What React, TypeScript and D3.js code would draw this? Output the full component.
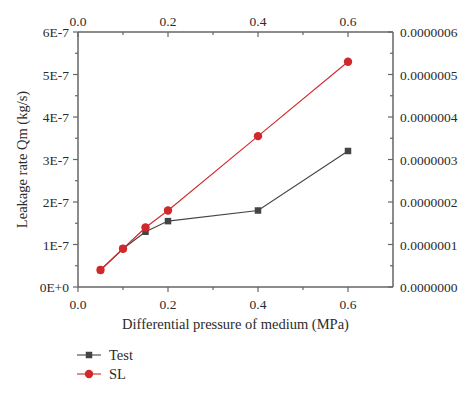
import React from 'react';
import * as d3 from 'd3';

// pressure (MPa)
const pressure = [0.05, 0.1, 0.15, 0.2, 0.4, 0.6];
// leakage rate Qm (kg/s)
const testValues = [4e-8, 9e-8, 1.3e-7, 1.55e-7, 1.8e-7, 3.2e-7];
const slValues = [4e-8, 9e-8, 1.4e-7, 1.8e-7, 3.55e-7, 5.3e-7];

const xTicks = [0, 0.2, 0.4, 0.6];
const xMinor = [0.1, 0.3, 0.5];
const yTicks = [0, 1e-7, 2e-7, 3e-7, 4e-7, 5e-7, 6e-7];
const yMinor = [0.5e-7, 1.5e-7, 2.5e-7, 3.5e-7, 4.5e-7, 5.5e-7];
const leftLabels = ['0E+0', '1E-7', '2E-7', '3E-7', '4E-7', '5E-7', '6E-7'];
const rightLabels = ['0.0000000', '0.0000001', '0.0000002', '0.0000003', '0.0000004', '0.0000005', '0.0000006'];

const W = 474;
const H = 395;
const m = { left: 78, right: 393, top: 32, bottom: 287 };

const axisColor = '#666';
const textColor = '#2b2b2b';
const font = '"Liberation Serif", "DejaVu Serif", serif';
const testColor = '#444';
const slColor = '#d0282b';

export default function App() {
  const x = d3.scaleLinear().domain([0, 0.7]).range([m.left, m.right]);
  const y = d3.scaleLinear().domain([0, 6e-7]).range([m.bottom, m.top]);

  const line = d3.line<[number, number]>()
    .x(d => x(d[0]))
    .y(d => y(d[1]));

  const testPts = pressure.map((p, i) => [p, testValues[i]] as [number, number]);
  const slPts = pressure.map((p, i) => [p, slValues[i]] as [number, number]);

  return (
    <svg width={W} height={H} style={{ position: 'absolute', left: 0, top: 0, background: '#fff' }}>
      {/* frame */}
      <g stroke={axisColor} strokeWidth={1.5} fill="none">
        <line x1={m.left} x2={m.right} y1={m.top} y2={m.top} />
        <line x1={m.left} x2={m.right} y1={m.bottom} y2={m.bottom} />
        <line x1={m.left} x2={m.left} y1={m.top} y2={m.bottom} />
        <line x1={m.right} x2={m.right} y1={m.top} y2={m.bottom} />
      </g>

      {/* ticks: bottom/left outward, top/right inward */}
      <g stroke={axisColor} strokeWidth={1.2}>
        {xTicks.map(t => (
          <g key={'xt' + t}>
            <line x1={x(t)} x2={x(t)} y1={m.bottom} y2={m.bottom + 5} />
            <line x1={x(t)} x2={x(t)} y1={m.top} y2={m.top + 5} />
          </g>
        ))}
        {xMinor.map(t => (
          <g key={'xm' + t}>
            <line x1={x(t)} x2={x(t)} y1={m.bottom} y2={m.bottom + 3} />
            <line x1={x(t)} x2={x(t)} y1={m.top} y2={m.top + 3} />
          </g>
        ))}
        {yTicks.map(t => (
          <g key={'yt' + t}>
            <line x1={m.left - 5} x2={m.left} y1={y(t)} y2={y(t)} />
            <line x1={m.right - 5} x2={m.right} y1={y(t)} y2={y(t)} />
          </g>
        ))}
        {yMinor.map(t => (
          <g key={'ym' + t}>
            <line x1={m.left - 3} x2={m.left} y1={y(t)} y2={y(t)} />
            <line x1={m.right - 3} x2={m.right} y1={y(t)} y2={y(t)} />
          </g>
        ))}
      </g>

      {/* tick labels */}
      <g fill={textColor} fontFamily={font} fontSize={13.5}>
        {xTicks.map(t => (
          <text key={'xb' + t} x={x(t)} y={m.bottom + 22} textAnchor="middle">{t.toFixed(1)}</text>
        ))}
        {xTicks.map(t => (
          <text key={'xtop' + t} x={x(t)} y={m.top - 6} textAnchor="middle">{t.toFixed(1)}</text>
        ))}
        {yTicks.map((t, i) => (
          <text key={'yl' + t} x={m.left - 9} y={y(t) + 5} textAnchor="end">{leftLabels[i]}</text>
        ))}
        {yTicks.map((t, i) => (
          <text key={'yr' + t} x={m.right + 7} y={y(t) + 5} textAnchor="start">{rightLabels[i]}</text>
        ))}
      </g>

      {/* axis titles */}
      <text x={(m.left + m.right) / 2} y={m.bottom + 42} textAnchor="middle" fill={textColor}
        fontFamily={font} fontSize={14.5}>Differential pressure of medium (MPa)</text>
      <text transform={`translate(27, ${(m.top + m.bottom) / 2}) rotate(-90)`} textAnchor="middle"
        fill={textColor} fontFamily={font} fontSize={14.5}>Leakage rate Qm (kg/s)</text>

      {/* series */}
      <path d={line(testPts) || ''} fill="none" stroke={testColor} strokeWidth={1.1} />
      {testPts.map((d, i) => (
        <rect key={'t' + i} x={x(d[0]) - 3.25} y={y(d[1]) - 3.25} width={6.5} height={6.5} fill={testColor} />
      ))}
      <path d={line(slPts) || ''} fill="none" stroke={slColor} strokeWidth={1.1} />
      {slPts.map((d, i) => (
        <circle key={'s' + i} cx={x(d[0])} cy={y(d[1])} r={4.2} fill={slColor} />
      ))}

      {/* legend */}
      <g fontFamily={font} fontSize={14.5} fill={textColor}>
        <line x1={77} x2={101} y1={355} y2={355} stroke={testColor} strokeWidth={1.1} />
        <rect x={85.75} y={351.75} width={6.5} height={6.5} fill={testColor} />
        <text x={109} y={360}>Test</text>
        <line x1={77} x2={101} y1={374} y2={374} stroke={slColor} strokeWidth={1.1} />
        <circle cx={89} cy={374} r={4.2} fill={slColor} />
        <text x={109} y={379}>SL</text>
      </g>
    </svg>
  );
}
